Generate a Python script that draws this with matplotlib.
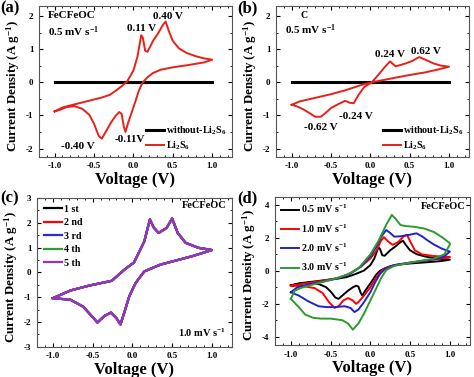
import matplotlib
matplotlib.use('Agg')
import matplotlib.pyplot as plt
from matplotlib.ticker import AutoMinorLocator, MultipleLocator
import numpy as np

plt.rcParams['font.family'] = ['Liberation Serif', 'DejaVu Serif']
plt.rcParams['font.weight'] = 'bold'
plt.rcParams['mathtext.fontset'] = 'custom'
plt.rcParams['mathtext.rm'] = 'Liberation Serif:bold'
plt.rcParams['mathtext.default'] = 'rm'

# ---- (a) FeCFeOC, 0.5 mV/s ----
a_up_v = [-1.00, -0.90, -0.80, -0.60, -0.40, -0.30, -0.22, -0.15, -0.08, 0.00, 0.05, 0.08, 0.10, 0.12,
          0.15, 0.18, 0.25, 0.32, 0.38, 0.41, 0.45, 0.50, 0.58, 0.68, 0.80, 0.90, 1.00]
a_up_i = [-0.88, -0.76, -0.70, -0.58, -0.46, -0.38, -0.25, -0.12, 0.02, 0.35, 0.75, 1.15, 1.42, 1.35,
          0.95, 0.92, 1.25, 1.50, 1.75, 1.83, 1.55, 1.25, 1.02, 0.88, 0.78, 0.72, 0.68]
a_dn_v = [1.00, 0.90, 0.70, 0.50, 0.35, 0.25, 0.18, 0.12, 0.07, 0.03, -0.02, -0.07, -0.10, -0.12,
          -0.15, -0.18, -0.22, -0.28, -0.34, -0.40, -0.44, -0.50, -0.56, -0.65, -0.75, -0.85, -0.92, -1.00]
a_dn_i = [0.68, 0.60, 0.52, 0.45, 0.38, 0.28, 0.15, 0.00, -0.25, -0.55, -0.90, -1.25, -1.50, -1.35,
          -0.95, -0.90, -1.00, -1.20, -1.45, -1.70, -1.62, -1.25, -0.98, -0.80, -0.72, -0.75, -0.82, -0.88]

# ---- (b) C, 0.5 mV/s ----
b_up_v = [-1.00, -0.90, -0.70, -0.50, -0.33, -0.20, -0.10, 0.02, 0.10, 0.18, 0.25, 0.32, 0.38, 0.45,
          0.53, 0.62, 0.70, 0.80, 0.90, 1.00]
b_up_i = [-0.68, -0.58, -0.47, -0.36, -0.25, -0.15, -0.07, 0.00, 0.22, 0.45, 0.63, 0.48, 0.52, 0.57,
          0.64, 0.76, 0.68, 0.57, 0.50, 0.47]
b_dn_v = [1.00, 0.85, 0.70, 0.50, 0.30, 0.15, 0.02, -0.08, -0.15, -0.21, -0.26, -0.32, -0.40, -0.50,
          -0.58, -0.63, -0.70, -0.76, -0.85, -0.93, -1.00]
b_dn_i = [0.47, 0.38, 0.30, 0.22, 0.13, 0.06, 0.00, -0.15, -0.38, -0.63, -0.62, -0.56, -0.65, -0.78,
          -0.95, -1.04, -1.04, -0.95, -0.82, -0.73, -0.68]

# ---- (c) FeCFeOC, 1.0 mV/s, cycles 1-5 (curves overlap) ----
c_up_v = [-1.00, -0.78, -0.54, -0.26, -0.10, 0.02, 0.15, 0.22, 0.27, 0.33, 0.43, 0.50, 0.57, 0.67,
          0.83, 1.00]
c_up_i = [-1.04, -0.73, -0.53, -0.34, 0.11, 0.40, 1.25, 2.13, 1.80, 1.59, 1.79, 2.17, 1.59, 1.19,
          0.99, 0.90]
c_dn_v = [1.00, 0.75, 0.35, 0.15, 0.04, -0.04, -0.10, -0.15, -0.20, -0.27, -0.35, -0.44, -0.50,
          -0.62, -0.78, -1.00]
c_dn_i = [0.90, 0.65, 0.31, 0.04, -0.43, -0.97, -1.60, -2.10, -1.85, -1.62, -1.75, -2.02, -1.80,
          -1.38, -1.10, -1.04]
c_labels = ['1 st', '2 nd', '3 rd', '4 th', '5 th']
c_colors = ['black', 'red', '#2b2bd0', '#2ca02c', '#9b30c8']

# ---- (d) FeCFeOC, different scan rates ----
d_labels = ['0.5 mV s$^{-1}$', '1.0 mV s$^{-1}$', '2.0 mV s$^{-1}$', '3.0 mV s$^{-1}$']
d_colors = ['black', 'red', '#2222cc', '#2e9a2e']
red_up_v = [-1.00, -0.80, -0.60, -0.40, -0.25, -0.12, 0.00, 0.08, 0.13, 0.17, 0.22, 0.28, 0.35, 0.42,
            0.46, 0.50, 0.56, 0.65, 0.80, 1.00]
red_up_i = [-0.90, -0.75, -0.60, -0.42, -0.15, 0.25, 0.75, 1.25, 1.80, 2.05, 1.80, 1.58, 1.75, 2.10,
            2.20, 1.80, 1.25, 1.00, 0.90, 0.85]
red_dn_v = [1.00, 0.80, 0.50, 0.30, 0.18, 0.12, 0.06, 0.00, -0.08, -0.15, -0.18, -0.22, -0.28, -0.34,
            -0.40, -0.45, -0.52, -0.60, -0.70, -0.85, -1.00]
red_dn_i = [0.82, 0.70, 0.50, 0.35, 0.15, -0.10, -0.50, -1.00, -1.50, -1.90, -2.00, -1.80, -1.65, -1.80,
            -2.15, -2.25, -1.90, -1.35, -1.05, -0.92, -0.90]
blue_up_v = [-1.00, -0.92, -0.80, -0.60, -0.40, -0.25, -0.12, 0.00, 0.08, 0.14, 0.20, 0.25, 0.30, 0.38,
             0.48, 0.58, 0.65, 0.72, 0.80, 0.90, 1.00]
blue_up_i = [-1.30, -1.00, -0.85, -0.65, -0.45, -0.15, 0.25, 0.90, 1.50, 2.10, 2.48, 2.30, 2.08, 2.10,
             2.18, 2.28, 2.10, 1.85, 1.60, 1.35, 1.17]
blue_dn_v = [1.00, 0.92, 0.80, 0.50, 0.30, 0.18, 0.12, 0.06, 0.00, -0.08, -0.15, -0.20, -0.25, -0.32,
             -0.45, -0.55, -0.65, -0.78, -0.90, -1.00]
blue_dn_i = [1.17, 0.85, 0.70, 0.50, 0.35, 0.10, -0.20, -0.70, -1.30, -1.90, -2.35, -2.50, -2.25, -2.15,
             -2.20, -2.20, -2.15, -1.85, -1.50, -1.30]
green_up_v = [-1.00, -0.95, -0.85, -0.70, -0.50, -0.30, -0.15, 0.00, 0.10, 0.20, 0.27, 0.32, 0.38, 0.45,
              0.55, 0.68, 0.80, 0.90, 1.00]
green_up_i = [-1.70, -1.20, -1.00, -0.80, -0.55, -0.25, 0.15, 1.00, 1.80, 2.80, 3.40, 3.15, 2.78, 2.72,
              2.68, 2.57, 2.36, 2.05, 1.68]
green_dn_v = [1.00, 0.93, 0.80, 0.50, 0.30, 0.20, 0.14, 0.08, 0.00, -0.08, -0.15, -0.22, -0.28, -0.35,
              -0.42, -0.50, -0.62, -0.72, -0.82, -0.90, -1.00]
green_dn_i = [1.60, 1.00, 0.75, 0.50, 0.30, 0.05, -0.40, -1.00, -1.80, -2.60, -3.20, -3.57, -3.20, -3.00,
              -2.95, -2.90, -2.90, -2.85, -2.65, -2.20, -1.70]


def loop(uv, ui, dv, di):
    return np.concatenate([uv, dv]), np.concatenate([ui, di])


def style(ax, ylim, ymaj):
    ax.set_xlim(-1.2, 1.25)
    ax.set_ylim(*ylim)
    ax.xaxis.set_major_locator(MultipleLocator(0.5))
    ax.xaxis.set_minor_locator(AutoMinorLocator(5))
    ax.yaxis.set_major_locator(MultipleLocator(ymaj))
    ax.yaxis.set_minor_locator(AutoMinorLocator(2))
    ax.tick_params(which='both', direction='in', top=True, right=True, labelsize=6.5, pad=4)
    ax.tick_params(which='major', length=3)
    ax.tick_params(which='minor', length=1.5)
    ax.xaxis.set_major_formatter(plt.FuncFormatter(lambda v, p: f'{v:.1f}'))
    ax.yaxis.set_major_formatter(plt.FuncFormatter(lambda v, p: f'{v:.0f}'))
    for s in ax.spines.values():
        s.set_linewidth(0.8)
        s.set_color('#555555')
    ax.set_xlabel('Voltage (V)', fontsize=12, fontweight='bold', labelpad=1)
    ax.set_ylabel('Current Density (A g$^{-1}$)', fontsize=9.3, fontweight='bold', labelpad=1)
    ax.yaxis.set_label_coords(-0.085, 0.47)


fig = plt.figure(figsize=(4.74, 3.77), dpi=100)
ax_a = fig.add_axes([0.082, 0.584, 0.407, 0.40])
ax_b = fig.add_axes([0.582, 0.584, 0.407, 0.40])
ax_c = fig.add_axes([0.078, 0.080, 0.411, 0.395])
ax_d = fig.add_axes([0.580, 0.085, 0.411, 0.393])

leg_kw = dict(frameon=False, fontsize=7.2, handlelength=1.8, handletextpad=0.2)

# (a)
ax_a.plot([-1, 1], [0, 0], color='black', lw=2.2, label='without-Li$_2$S$_6$')
v, i = loop(a_up_v, a_up_i, a_dn_v, a_dn_i)
ax_a.plot(v, i, color='#e8201a', lw=1.4, label='Li$_2$S$_6$')
style(ax_a, (-2.25, 2.3), 1)
ax_a.legend(loc='lower right', borderaxespad=0.1, labelspacing=0.25, **leg_kw)
ax_a.text(-1.09, 2.0, 'FeCFeOC', fontsize=8, fontweight='bold', va='center')
ax_a.text(-1.09, 1.53, '0.5 mV s$^{-1}$', fontsize=8, fontweight='bold', va='center')
ax_a.text(0.11, 1.62, '0.11 V', fontsize=8, fontweight='bold', ha='center', va='center')
ax_a.text(0.44, 1.98, '0.40 V', fontsize=8, fontweight='bold', ha='center', va='center')
ax_a.text(-0.04, -1.74, '-0.11V', fontsize=8, fontweight='bold', ha='center', va='center')
ax_a.text(-0.70, -1.95, '-0.40 V', fontsize=8, fontweight='bold', ha='center', va='center')
fig.text(0.0, 1.0, '(a)', fontsize=12, fontweight='bold', va='top')

# (b)
ax_b.plot([-1, 1], [0, 0], color='black', lw=2.2, label='without-Li$_2$S$_6$')
v, i = loop(b_up_v, b_up_i, b_dn_v, b_dn_i)
ax_b.plot(v, i, color='#e8201a', lw=1.4, label='Li$_2$S$_6$')
style(ax_b, (-2.25, 2.3), 1)
ax_b.legend(loc='lower right', borderaxespad=0.1, labelspacing=0.25, **leg_kw)
ax_b.text(-0.84, 2.0, 'C', fontsize=7, fontweight='bold', ha='center', va='center')
ax_b.text(-1.09, 1.6, '0.5 mV s$^{-1}$', fontsize=8, fontweight='bold', va='center')
ax_b.text(0.25, 0.84, '0.24 V', fontsize=8, fontweight='bold', ha='center', va='center')
ax_b.text(0.70, 0.93, '0.62 V', fontsize=8, fontweight='bold', ha='center', va='center')
ax_b.text(-0.18, -1.02, '-0.24 V', fontsize=8, fontweight='bold', ha='center', va='center')
ax_b.text(-0.63, -1.35, '-0.62 V', fontsize=8, fontweight='bold', ha='center', va='center')
fig.text(0.5, 1.0, '(b)', fontsize=12, fontweight='bold', va='top')

# (c)
v, i = loop(c_up_v, c_up_i, c_dn_v, c_dn_i)
for lab, col in zip(c_labels, c_colors):
    ax_c.plot(v, i, color=col, lw=1.6, label=lab)
style(ax_c, (-3, 3), 1)
ax_c.legend(loc='upper left', borderaxespad=0.3, labelspacing=0.45, **leg_kw)
ax_c.text(1.18, 2.7, 'FeCFeOC', fontsize=7.5, fontweight='bold', ha='right', va='center')
ax_c.text(1.18, -2.43, '1.0 mV s$^{-1}$', fontsize=7.5, fontweight='bold', ha='right', va='center')
fig.text(0.0, 0.495, '(c)', fontsize=12, fontweight='bold', va='top')

# (d)
curves_d = [loop(a_up_v, a_up_i, a_dn_v, a_dn_i),
            loop(red_up_v, red_up_i, red_dn_v, red_dn_i),
            loop(blue_up_v, blue_up_i, blue_dn_v, blue_dn_i),
            loop(green_up_v, green_up_i, green_dn_v, green_dn_i)]
for (v, i), lab, col in zip(curves_d, d_labels, d_colors):
    ax_d.plot(v, i, color=col, lw=1.4, label=lab)
style(ax_d, (-4.5, 4.5), 2)
ax_d.legend(loc='upper left', borderaxespad=0.2, labelspacing=0.7, **leg_kw)
ax_d.text(1.2, 3.9, 'FeCFeOC', fontsize=7.5, fontweight='bold', ha='right', va='center')
fig.text(0.5, 0.495, '(d)', fontsize=12, fontweight='bold', va='top')

fig.savefig('out.png', dpi=100)
